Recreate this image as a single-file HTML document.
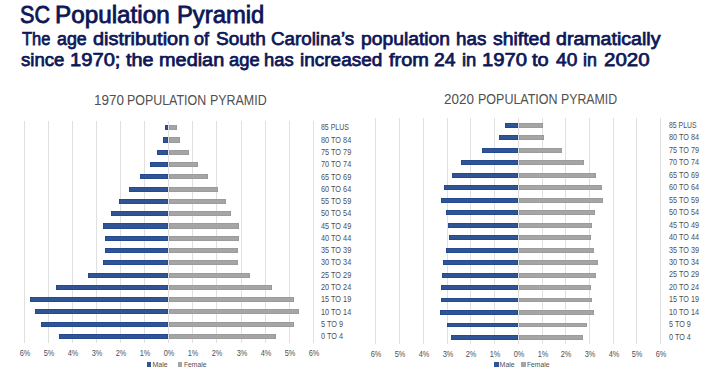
<!DOCTYPE html>
<html><head><meta charset="utf-8">
<style>
html,body{margin:0;padding:0;background:#fff;}
body{width:717px;height:373px;position:relative;overflow:hidden;font-family:"Liberation Sans",sans-serif;}
.t{position:absolute;white-space:nowrap;line-height:1;}
.g{position:absolute;width:1px;background:#e0e0e0;}
.bm{position:absolute;background:#2f5597;box-shadow:inset 0 0 0 0.6px #1f418a;}
.bf{position:absolute;background:#a5a5a5;box-shadow:inset 0 0 0 0.6px #949494;}
.ax{position:absolute;width:30px;text-align:center;line-height:1;color:#505050;white-space:nowrap;}
.lm,.lf{position:absolute;width:4.5px;height:4.5px;}
.lm{background:#2f5597;}
.lf{background:#a5a5a5;}
</style></head><body>
<div id="w_title_0" class="t" style="left:20.00px;top:3.80px;font-size:23px;color:#0d1757;font-weight:normal;transform:scaleX(0.9392);transform-origin:left top;-webkit-text-stroke:0.8px #0d1757">SC</div>
<div id="w_title_1" class="t" style="left:55.20px;top:3.80px;font-size:23px;color:#0d1757;font-weight:normal;transform:scaleX(1.0549);transform-origin:left top;-webkit-text-stroke:0.8px #0d1757">Population</div>
<div id="w_title_2" class="t" style="left:176.80px;top:3.80px;font-size:23px;color:#0d1757;font-weight:normal;transform:scaleX(1.0345);transform-origin:left top;-webkit-text-stroke:0.8px #0d1757">Pyramid</div>
<div id="w_sub1_0" class="t" style="left:21.80px;top:29.70px;font-size:18.8px;color:#0d1757;font-weight:normal;transform:scaleX(0.8776);transform-origin:left top;-webkit-text-stroke:0.75px #0d1757">The</div>
<div id="w_sub1_1" class="t" style="left:56.60px;top:29.70px;font-size:18.8px;color:#0d1757;font-weight:normal;transform:scaleX(0.9503);transform-origin:left top;-webkit-text-stroke:0.75px #0d1757">age</div>
<div id="w_sub1_2" class="t" style="left:93.20px;top:29.70px;font-size:18.8px;color:#0d1757;font-weight:normal;transform:scaleX(1.0591);transform-origin:left top;-webkit-text-stroke:0.75px #0d1757">distribution</div>
<div id="w_sub1_3" class="t" style="left:194.00px;top:29.70px;font-size:18.8px;color:#0d1757;font-weight:normal;transform:scaleX(0.9588);transform-origin:left top;-webkit-text-stroke:0.75px #0d1757">of</div>
<div id="w_sub1_4" class="t" style="left:216.00px;top:29.70px;font-size:18.8px;color:#0d1757;font-weight:normal;transform:scaleX(1.0133);transform-origin:left top;-webkit-text-stroke:0.75px #0d1757">South</div>
<div id="w_sub1_5" class="t" style="left:271.00px;top:29.70px;font-size:18.8px;color:#0d1757;font-weight:normal;transform:scaleX(0.9991);transform-origin:left top;-webkit-text-stroke:0.75px #0d1757">Carolina&#8217;s</div>
<div id="w_sub1_6" class="t" style="left:360.60px;top:29.70px;font-size:18.8px;color:#0d1757;font-weight:normal;transform:scaleX(1.0270);transform-origin:left top;-webkit-text-stroke:0.75px #0d1757">population</div>
<div id="w_sub1_7" class="t" style="left:456.00px;top:29.70px;font-size:18.8px;color:#0d1757;font-weight:normal;transform:scaleX(1.0000);transform-origin:left top;-webkit-text-stroke:0.75px #0d1757">has</div>
<div id="w_sub1_8" class="t" style="left:492.60px;top:29.70px;font-size:18.8px;color:#0d1757;font-weight:normal;transform:scaleX(1.0340);transform-origin:left top;-webkit-text-stroke:0.75px #0d1757">shifted</div>
<div id="w_sub1_9" class="t" style="left:556.20px;top:29.70px;font-size:18.8px;color:#0d1757;font-weight:normal;transform:scaleX(1.0428);transform-origin:left top;-webkit-text-stroke:0.75px #0d1757">dramatically</div>
<div id="w_sub2_0" class="t" style="left:21.30px;top:51.20px;font-size:18.8px;color:#0d1757;font-weight:normal;transform:scaleX(0.9905);transform-origin:left top;-webkit-text-stroke:0.75px #0d1757">since</div>
<div id="w_sub2_1" class="t" style="left:69.70px;top:51.20px;font-size:18.8px;color:#0d1757;font-weight:normal;transform:scaleX(1.0739);transform-origin:left top;-webkit-text-stroke:0.75px #0d1757">1970;</div>
<div id="w_sub2_2" class="t" style="left:126.00px;top:51.20px;font-size:18.8px;color:#0d1757;font-weight:normal;transform:scaleX(1.0556);transform-origin:left top;-webkit-text-stroke:0.75px #0d1757">the</div>
<div id="w_sub2_3" class="t" style="left:158.60px;top:51.20px;font-size:18.8px;color:#0d1757;font-weight:normal;transform:scaleX(1.0589);transform-origin:left top;-webkit-text-stroke:0.75px #0d1757">median</div>
<div id="w_sub2_4" class="t" style="left:228.60px;top:51.20px;font-size:18.8px;color:#0d1757;font-weight:normal;transform:scaleX(0.9762);transform-origin:left top;-webkit-text-stroke:0.75px #0d1757">age</div>
<div id="w_sub2_5" class="t" style="left:264.00px;top:51.20px;font-size:18.8px;color:#0d1757;font-weight:normal;transform:scaleX(0.9778);transform-origin:left top;-webkit-text-stroke:0.75px #0d1757">has</div>
<div id="w_sub2_6" class="t" style="left:299.80px;top:51.20px;font-size:18.8px;color:#0d1757;font-weight:normal;transform:scaleX(1.0103);transform-origin:left top;-webkit-text-stroke:0.75px #0d1757">increased</div>
<div id="w_sub2_7" class="t" style="left:388.60px;top:51.20px;font-size:18.8px;color:#0d1757;font-weight:normal;transform:scaleX(1.0608);transform-origin:left top;-webkit-text-stroke:0.75px #0d1757">from</div>
<div id="w_sub2_8" class="t" style="left:434.00px;top:51.20px;font-size:18.8px;color:#0d1757;font-weight:normal;transform:scaleX(1.0283);transform-origin:left top;-webkit-text-stroke:0.75px #0d1757">24</div>
<div id="w_sub2_9" class="t" style="left:461.80px;top:51.20px;font-size:18.8px;color:#0d1757;font-weight:normal;transform:scaleX(0.9797);transform-origin:left top;-webkit-text-stroke:0.75px #0d1757">in</div>
<div id="w_sub2_10" class="t" style="left:481.80px;top:51.20px;font-size:18.8px;color:#0d1757;font-weight:normal;transform:scaleX(1.0793);transform-origin:left top;-webkit-text-stroke:0.75px #0d1757">1970</div>
<div id="w_sub2_11" class="t" style="left:532.00px;top:51.20px;font-size:18.8px;color:#0d1757;font-weight:normal;transform:scaleX(1.0630);transform-origin:left top;-webkit-text-stroke:0.75px #0d1757">to</div>
<div id="w_sub2_12" class="t" style="left:556.20px;top:51.20px;font-size:18.8px;color:#0d1757;font-weight:normal;transform:scaleX(1.0189);transform-origin:left top;-webkit-text-stroke:0.75px #0d1757">40</div>
<div id="w_sub2_13" class="t" style="left:583.40px;top:51.20px;font-size:18.8px;color:#0d1757;font-weight:normal;transform:scaleX(0.9502);transform-origin:left top;-webkit-text-stroke:0.75px #0d1757">in</div>
<div id="w_sub2_14" class="t" style="left:603.80px;top:51.20px;font-size:18.8px;color:#0d1757;font-weight:normal;transform:scaleX(1.0913);transform-origin:left top;-webkit-text-stroke:0.75px #0d1757">2020</div>
<div class="g" style="left:24px;top:121px;height:222px"></div>
<div class="g" style="left:48px;top:121px;height:222px"></div>
<div class="g" style="left:72px;top:121px;height:222px"></div>
<div class="g" style="left:96px;top:121px;height:222px"></div>
<div class="g" style="left:120px;top:121px;height:222px"></div>
<div class="g" style="left:144px;top:121px;height:222px"></div>
<div class="g" style="left:168px;top:121px;height:222px"></div>
<div class="g" style="left:192px;top:121px;height:222px"></div>
<div class="g" style="left:216px;top:121px;height:222px"></div>
<div class="g" style="left:241px;top:121px;height:222px"></div>
<div class="g" style="left:265px;top:121px;height:222px"></div>
<div class="g" style="left:289px;top:121px;height:222px"></div>
<div class="g" style="left:313px;top:121px;height:222px"></div>
<div class="bm" style="left:164.90px;top:125.20px;width:3.15px;height:5.10px"></div>
<div class="bf" style="left:169px;top:125.20px;width:7.70px;height:5.10px"></div>
<div id="Lc0" class="t" style="left:320.60px;top:124.40px;font-size:8.2px;color:#505050;font-weight:normal;transform:scaleX(0.8484);transform-origin:left top;">85 PLUS</div>
<div class="bm" style="left:162.50px;top:137.48px;width:5.55px;height:5.10px"></div>
<div class="bf" style="left:169px;top:137.48px;width:11.20px;height:5.10px"></div>
<div id="Lc1" class="t" style="left:320.60px;top:136.68px;font-size:8.2px;color:#505050;font-weight:normal;transform:scaleX(0.8931);transform-origin:left top;">80 TO 84</div>
<div class="bm" style="left:156.90px;top:149.76px;width:11.15px;height:5.10px"></div>
<div class="bf" style="left:169px;top:149.76px;width:19.90px;height:5.10px"></div>
<div id="Lc2" class="t" style="left:320.60px;top:148.96px;font-size:8.2px;color:#505050;font-weight:normal;transform:scaleX(0.8931);transform-origin:left top;">75 TO 79</div>
<div class="bm" style="left:149.50px;top:162.04px;width:18.55px;height:5.10px"></div>
<div class="bf" style="left:169px;top:162.04px;width:29.20px;height:5.10px"></div>
<div id="Lc3" class="t" style="left:320.60px;top:161.24px;font-size:8.2px;color:#505050;font-weight:normal;transform:scaleX(0.8931);transform-origin:left top;">70 TO 74</div>
<div class="bm" style="left:139.60px;top:174.32px;width:28.45px;height:5.10px"></div>
<div class="bf" style="left:169px;top:174.32px;width:39.20px;height:5.10px"></div>
<div id="Lc4" class="t" style="left:320.60px;top:173.52px;font-size:8.2px;color:#505050;font-weight:normal;transform:scaleX(0.8931);transform-origin:left top;">65 TO 69</div>
<div class="bm" style="left:129.30px;top:186.60px;width:38.75px;height:5.10px"></div>
<div class="bf" style="left:169px;top:186.60px;width:49.00px;height:5.10px"></div>
<div id="Lc5" class="t" style="left:320.60px;top:185.80px;font-size:8.2px;color:#505050;font-weight:normal;transform:scaleX(0.8931);transform-origin:left top;">60 TO 64</div>
<div class="bm" style="left:119.00px;top:198.88px;width:49.05px;height:5.10px"></div>
<div class="bf" style="left:169px;top:198.88px;width:57.20px;height:5.10px"></div>
<div id="Lc6" class="t" style="left:320.60px;top:198.08px;font-size:8.2px;color:#505050;font-weight:normal;transform:scaleX(0.8931);transform-origin:left top;">55 TO 59</div>
<div class="bm" style="left:111.20px;top:211.16px;width:56.85px;height:5.10px"></div>
<div class="bf" style="left:169px;top:211.16px;width:61.90px;height:5.10px"></div>
<div id="Lc7" class="t" style="left:320.60px;top:210.36px;font-size:8.2px;color:#505050;font-weight:normal;transform:scaleX(0.8931);transform-origin:left top;">50 TO 54</div>
<div class="bm" style="left:103.40px;top:223.44px;width:64.65px;height:5.10px"></div>
<div class="bf" style="left:169px;top:223.44px;width:70.20px;height:5.10px"></div>
<div id="Lc8" class="t" style="left:320.60px;top:222.64px;font-size:8.2px;color:#505050;font-weight:normal;transform:scaleX(0.8931);transform-origin:left top;">45 TO 49</div>
<div class="bm" style="left:104.50px;top:235.72px;width:63.55px;height:5.10px"></div>
<div class="bf" style="left:169px;top:235.72px;width:70.20px;height:5.10px"></div>
<div id="Lc9" class="t" style="left:320.60px;top:234.92px;font-size:8.2px;color:#505050;font-weight:normal;transform:scaleX(0.8931);transform-origin:left top;">40 TO 44</div>
<div class="bm" style="left:105.20px;top:248.00px;width:62.85px;height:5.10px"></div>
<div class="bf" style="left:169px;top:248.00px;width:69.10px;height:5.10px"></div>
<div id="Lc10" class="t" style="left:320.60px;top:247.20px;font-size:8.2px;color:#505050;font-weight:normal;transform:scaleX(0.8931);transform-origin:left top;">35 TO 39</div>
<div class="bm" style="left:103.20px;top:260.28px;width:64.85px;height:5.10px"></div>
<div class="bf" style="left:169px;top:260.28px;width:69.10px;height:5.10px"></div>
<div id="Lc11" class="t" style="left:320.60px;top:259.48px;font-size:8.2px;color:#505050;font-weight:normal;transform:scaleX(0.8931);transform-origin:left top;">30 TO 34</div>
<div class="bm" style="left:87.60px;top:272.56px;width:80.45px;height:5.10px"></div>
<div class="bf" style="left:169px;top:272.56px;width:80.60px;height:5.10px"></div>
<div id="Lc12" class="t" style="left:320.60px;top:271.76px;font-size:8.2px;color:#505050;font-weight:normal;transform:scaleX(0.8931);transform-origin:left top;">25 TO 29</div>
<div class="bm" style="left:56.40px;top:284.84px;width:111.65px;height:5.10px"></div>
<div class="bf" style="left:169px;top:284.84px;width:103.10px;height:5.10px"></div>
<div id="Lc13" class="t" style="left:320.60px;top:284.04px;font-size:8.2px;color:#505050;font-weight:normal;transform:scaleX(0.8931);transform-origin:left top;">20 TO 24</div>
<div class="bm" style="left:30.00px;top:297.12px;width:138.05px;height:5.10px"></div>
<div class="bf" style="left:169px;top:297.12px;width:125.20px;height:5.10px"></div>
<div id="Lc14" class="t" style="left:320.60px;top:296.32px;font-size:8.2px;color:#505050;font-weight:normal;transform:scaleX(0.8931);transform-origin:left top;">15 TO 19</div>
<div class="bm" style="left:35.20px;top:309.40px;width:132.85px;height:5.10px"></div>
<div class="bf" style="left:169px;top:309.40px;width:130.40px;height:5.10px"></div>
<div id="Lc15" class="t" style="left:320.60px;top:308.60px;font-size:8.2px;color:#505050;font-weight:normal;transform:scaleX(0.8931);transform-origin:left top;">10 TO 14</div>
<div class="bm" style="left:40.80px;top:321.68px;width:127.25px;height:5.10px"></div>
<div class="bf" style="left:169px;top:321.68px;width:125.00px;height:5.10px"></div>
<div id="Lc16" class="t" style="left:320.60px;top:320.88px;font-size:8.2px;color:#505050;font-weight:normal;transform:scaleX(0.8931);transform-origin:left top;">5 TO 9</div>
<div class="bm" style="left:59.00px;top:333.96px;width:109.05px;height:5.10px"></div>
<div class="bf" style="left:169px;top:333.96px;width:107.10px;height:5.10px"></div>
<div id="Lc17" class="t" style="left:320.60px;top:333.16px;font-size:8.2px;color:#505050;font-weight:normal;transform:scaleX(0.8931);transform-origin:left top;">0 TO 4</div>
<div id="Lax0" class="ax" style="left:9.50px;top:348.70px;font-size:8.6px;transform:scaleX(0.8600)">6%</div>
<div id="Lax1" class="ax" style="left:33.50px;top:348.70px;font-size:8.6px;transform:scaleX(0.8600)">5%</div>
<div id="Lax2" class="ax" style="left:57.50px;top:348.70px;font-size:8.6px;transform:scaleX(0.8600)">4%</div>
<div id="Lax3" class="ax" style="left:81.50px;top:348.70px;font-size:8.6px;transform:scaleX(0.8600)">3%</div>
<div id="Lax4" class="ax" style="left:105.50px;top:348.70px;font-size:8.6px;transform:scaleX(0.8600)">2%</div>
<div id="Lax5" class="ax" style="left:129.50px;top:348.70px;font-size:8.6px;transform:scaleX(0.8600)">1%</div>
<div id="Lax6" class="ax" style="left:153.50px;top:348.70px;font-size:8.6px;transform:scaleX(0.8600)">0%</div>
<div id="Lax7" class="ax" style="left:177.50px;top:348.70px;font-size:8.6px;transform:scaleX(0.8600)">1%</div>
<div id="Lax8" class="ax" style="left:201.50px;top:348.70px;font-size:8.6px;transform:scaleX(0.8600)">2%</div>
<div id="Lax9" class="ax" style="left:226.50px;top:348.70px;font-size:8.6px;transform:scaleX(0.8600)">3%</div>
<div id="Lax10" class="ax" style="left:250.50px;top:348.70px;font-size:8.6px;transform:scaleX(0.8600)">4%</div>
<div id="Lax11" class="ax" style="left:274.50px;top:348.70px;font-size:8.6px;transform:scaleX(0.8600)">5%</div>
<div id="Lax12" class="ax" style="left:298.50px;top:348.70px;font-size:8.6px;transform:scaleX(0.8600)">6%</div>
<div id="w_Lt_0" class="t" style="left:94.20px;top:92.60px;font-size:14px;color:#505050;font-weight:normal;transform:scaleX(0.9605);transform-origin:left top;">1970</div>
<div id="w_Lt_1" class="t" style="left:127.30px;top:92.60px;font-size:14px;color:#505050;font-weight:normal;transform:scaleX(0.8875);transform-origin:left top;">POPULATION</div>
<div id="w_Lt_2" class="t" style="left:209.90px;top:92.60px;font-size:14px;color:#505050;font-weight:normal;transform:scaleX(0.8874);transform-origin:left top;">PYRAMID</div>
<div class="lm" style="left:146.7px;top:362.4px"></div>
<div id="Llm" class="t" style="left:152.50px;top:361.00px;font-size:7.0px;color:#505050;font-weight:normal;transform:scaleX(1.0000);transform-origin:left top;">Male</div>
<div class="lf" style="left:177.6px;top:362.4px"></div>
<div id="Llf" class="t" style="left:183.80px;top:361.00px;font-size:7.0px;color:#505050;font-weight:normal;transform:scaleX(0.9600);transform-origin:left top;">Female</div>
<div class="g" style="left:375px;top:118px;height:226px"></div>
<div class="g" style="left:399px;top:118px;height:226px"></div>
<div class="g" style="left:423px;top:118px;height:226px"></div>
<div class="g" style="left:447px;top:118px;height:226px"></div>
<div class="g" style="left:470px;top:118px;height:226px"></div>
<div class="g" style="left:494px;top:118px;height:226px"></div>
<div class="g" style="left:518px;top:118px;height:226px"></div>
<div class="g" style="left:542px;top:118px;height:226px"></div>
<div class="g" style="left:565px;top:118px;height:226px"></div>
<div class="g" style="left:589px;top:118px;height:226px"></div>
<div class="g" style="left:613px;top:118px;height:226px"></div>
<div class="g" style="left:636px;top:118px;height:226px"></div>
<div class="g" style="left:660px;top:118px;height:226px"></div>
<div class="bm" style="left:504.50px;top:122.85px;width:13.55px;height:4.90px"></div>
<div class="bf" style="left:519px;top:122.85px;width:23.80px;height:4.90px"></div>
<div id="Rc0" class="t" style="left:668.60px;top:121.70px;font-size:8.2px;color:#505050;font-weight:normal;transform:scaleX(0.8415);transform-origin:left top;">85 PLUS</div>
<div class="bm" style="left:498.50px;top:135.33px;width:19.55px;height:4.90px"></div>
<div class="bf" style="left:519px;top:135.33px;width:25.40px;height:4.90px"></div>
<div id="Rc1" class="t" style="left:668.60px;top:134.18px;font-size:8.2px;color:#505050;font-weight:normal;transform:scaleX(0.8857);transform-origin:left top;">80 TO 84</div>
<div class="bm" style="left:482.20px;top:147.81px;width:35.85px;height:4.90px"></div>
<div class="bf" style="left:519px;top:147.81px;width:42.50px;height:4.90px"></div>
<div id="Rc2" class="t" style="left:668.60px;top:146.66px;font-size:8.2px;color:#505050;font-weight:normal;transform:scaleX(0.8857);transform-origin:left top;">75 TO 79</div>
<div class="bm" style="left:461.20px;top:160.29px;width:56.85px;height:4.90px"></div>
<div class="bf" style="left:519px;top:160.29px;width:65.40px;height:4.90px"></div>
<div id="Rc3" class="t" style="left:668.60px;top:159.14px;font-size:8.2px;color:#505050;font-weight:normal;transform:scaleX(0.8857);transform-origin:left top;">70 TO 74</div>
<div class="bm" style="left:451.60px;top:172.77px;width:66.45px;height:4.90px"></div>
<div class="bf" style="left:519px;top:172.77px;width:77.00px;height:4.90px"></div>
<div id="Rc4" class="t" style="left:668.60px;top:171.62px;font-size:8.2px;color:#505050;font-weight:normal;transform:scaleX(0.8857);transform-origin:left top;">65 TO 69</div>
<div class="bm" style="left:443.80px;top:185.25px;width:74.25px;height:4.90px"></div>
<div class="bf" style="left:519px;top:185.25px;width:82.80px;height:4.90px"></div>
<div id="Rc5" class="t" style="left:668.60px;top:184.10px;font-size:8.2px;color:#505050;font-weight:normal;transform:scaleX(0.8857);transform-origin:left top;">60 TO 64</div>
<div class="bm" style="left:441.00px;top:197.73px;width:77.05px;height:4.90px"></div>
<div class="bf" style="left:519px;top:197.73px;width:83.80px;height:4.90px"></div>
<div id="Rc6" class="t" style="left:668.60px;top:196.58px;font-size:8.2px;color:#505050;font-weight:normal;transform:scaleX(0.8857);transform-origin:left top;">55 TO 59</div>
<div class="bm" style="left:445.80px;top:210.21px;width:72.25px;height:4.90px"></div>
<div class="bf" style="left:519px;top:210.21px;width:75.80px;height:4.90px"></div>
<div id="Rc7" class="t" style="left:668.60px;top:209.06px;font-size:8.2px;color:#505050;font-weight:normal;transform:scaleX(0.8857);transform-origin:left top;">50 TO 54</div>
<div class="bm" style="left:448.10px;top:222.69px;width:69.95px;height:4.90px"></div>
<div class="bf" style="left:519px;top:222.69px;width:72.70px;height:4.90px"></div>
<div id="Rc8" class="t" style="left:668.60px;top:221.54px;font-size:8.2px;color:#505050;font-weight:normal;transform:scaleX(0.8857);transform-origin:left top;">45 TO 49</div>
<div class="bm" style="left:449.30px;top:235.17px;width:68.75px;height:4.90px"></div>
<div class="bf" style="left:519px;top:235.17px;width:71.70px;height:4.90px"></div>
<div id="Rc9" class="t" style="left:668.60px;top:234.02px;font-size:8.2px;color:#505050;font-weight:normal;transform:scaleX(0.8857);transform-origin:left top;">40 TO 44</div>
<div class="bm" style="left:446.10px;top:247.65px;width:71.95px;height:4.90px"></div>
<div class="bf" style="left:519px;top:247.65px;width:75.20px;height:4.90px"></div>
<div id="Rc10" class="t" style="left:668.60px;top:246.50px;font-size:8.2px;color:#505050;font-weight:normal;transform:scaleX(0.8857);transform-origin:left top;">35 TO 39</div>
<div class="bm" style="left:443.30px;top:260.13px;width:74.75px;height:4.90px"></div>
<div class="bf" style="left:519px;top:260.13px;width:78.50px;height:4.90px"></div>
<div id="Rc11" class="t" style="left:668.60px;top:258.98px;font-size:8.2px;color:#505050;font-weight:normal;transform:scaleX(0.8857);transform-origin:left top;">30 TO 34</div>
<div class="bm" style="left:442.10px;top:272.61px;width:75.95px;height:4.90px"></div>
<div class="bf" style="left:519px;top:272.61px;width:77.00px;height:4.90px"></div>
<div id="Rc12" class="t" style="left:668.60px;top:271.46px;font-size:8.2px;color:#505050;font-weight:normal;transform:scaleX(0.8857);transform-origin:left top;">25 TO 29</div>
<div class="bm" style="left:441.00px;top:285.09px;width:77.05px;height:4.90px"></div>
<div class="bf" style="left:519px;top:285.09px;width:72.20px;height:4.90px"></div>
<div id="Rc13" class="t" style="left:668.60px;top:283.94px;font-size:8.2px;color:#505050;font-weight:normal;transform:scaleX(0.8857);transform-origin:left top;">20 TO 24</div>
<div class="bm" style="left:441.00px;top:297.57px;width:77.05px;height:4.90px"></div>
<div class="bf" style="left:519px;top:297.57px;width:73.00px;height:4.90px"></div>
<div id="Rc14" class="t" style="left:668.60px;top:296.42px;font-size:8.2px;color:#505050;font-weight:normal;transform:scaleX(0.8857);transform-origin:left top;">15 TO 19</div>
<div class="bm" style="left:440.00px;top:310.05px;width:78.05px;height:4.90px"></div>
<div class="bf" style="left:519px;top:310.05px;width:75.20px;height:4.90px"></div>
<div id="Rc15" class="t" style="left:668.60px;top:308.90px;font-size:8.2px;color:#505050;font-weight:normal;transform:scaleX(0.8857);transform-origin:left top;">10 TO 14</div>
<div class="bm" style="left:446.80px;top:322.53px;width:71.25px;height:4.90px"></div>
<div class="bf" style="left:519px;top:322.53px;width:67.70px;height:4.90px"></div>
<div id="Rc16" class="t" style="left:668.60px;top:321.38px;font-size:8.2px;color:#505050;font-weight:normal;transform:scaleX(0.8857);transform-origin:left top;">5 TO 9</div>
<div class="bm" style="left:451.10px;top:335.01px;width:66.95px;height:4.90px"></div>
<div class="bf" style="left:519px;top:335.01px;width:63.70px;height:4.90px"></div>
<div id="Rc17" class="t" style="left:668.60px;top:333.86px;font-size:8.2px;color:#505050;font-weight:normal;transform:scaleX(0.8857);transform-origin:left top;">0 TO 4</div>
<div id="Rax0" class="ax" style="left:360.50px;top:350.00px;font-size:8.6px;transform:scaleX(0.8600)">6%</div>
<div id="Rax1" class="ax" style="left:384.50px;top:350.00px;font-size:8.6px;transform:scaleX(0.8600)">5%</div>
<div id="Rax2" class="ax" style="left:408.50px;top:350.00px;font-size:8.6px;transform:scaleX(0.8600)">4%</div>
<div id="Rax3" class="ax" style="left:432.50px;top:350.00px;font-size:8.6px;transform:scaleX(0.8600)">3%</div>
<div id="Rax4" class="ax" style="left:455.50px;top:350.00px;font-size:8.6px;transform:scaleX(0.8600)">2%</div>
<div id="Rax5" class="ax" style="left:479.50px;top:350.00px;font-size:8.6px;transform:scaleX(0.8600)">1%</div>
<div id="Rax6" class="ax" style="left:503.50px;top:350.00px;font-size:8.6px;transform:scaleX(0.8600)">0%</div>
<div id="Rax7" class="ax" style="left:527.50px;top:350.00px;font-size:8.6px;transform:scaleX(0.8600)">1%</div>
<div id="Rax8" class="ax" style="left:550.50px;top:350.00px;font-size:8.6px;transform:scaleX(0.8600)">2%</div>
<div id="Rax9" class="ax" style="left:574.50px;top:350.00px;font-size:8.6px;transform:scaleX(0.8600)">3%</div>
<div id="Rax10" class="ax" style="left:598.50px;top:350.00px;font-size:8.6px;transform:scaleX(0.8600)">4%</div>
<div id="Rax11" class="ax" style="left:621.50px;top:350.00px;font-size:8.6px;transform:scaleX(0.8600)">5%</div>
<div id="Rax12" class="ax" style="left:645.50px;top:350.00px;font-size:8.6px;transform:scaleX(0.8600)">6%</div>
<div id="w_Rt_0" class="t" style="left:444.00px;top:92.00px;font-size:14px;color:#505050;font-weight:normal;transform:scaleX(0.9605);transform-origin:left top;">2020</div>
<div id="w_Rt_1" class="t" style="left:478.10px;top:92.00px;font-size:14px;color:#505050;font-weight:normal;transform:scaleX(0.8921);transform-origin:left top;">POPULATION</div>
<div id="w_Rt_2" class="t" style="left:560.60px;top:92.00px;font-size:14px;color:#505050;font-weight:normal;transform:scaleX(0.8809);transform-origin:left top;">PYRAMID</div>
<div class="lm" style="left:494.2px;top:362.2px"></div>
<div id="Rlm" class="t" style="left:499.60px;top:360.60px;font-size:7.0px;color:#505050;font-weight:normal;transform:scaleX(1.0000);transform-origin:left top;">Male</div>
<div class="lf" style="left:521.2px;top:362.2px"></div>
<div id="Rlf" class="t" style="left:527.20px;top:360.60px;font-size:7.0px;color:#505050;font-weight:normal;transform:scaleX(0.9600);transform-origin:left top;">Female</div>
</body></html>
